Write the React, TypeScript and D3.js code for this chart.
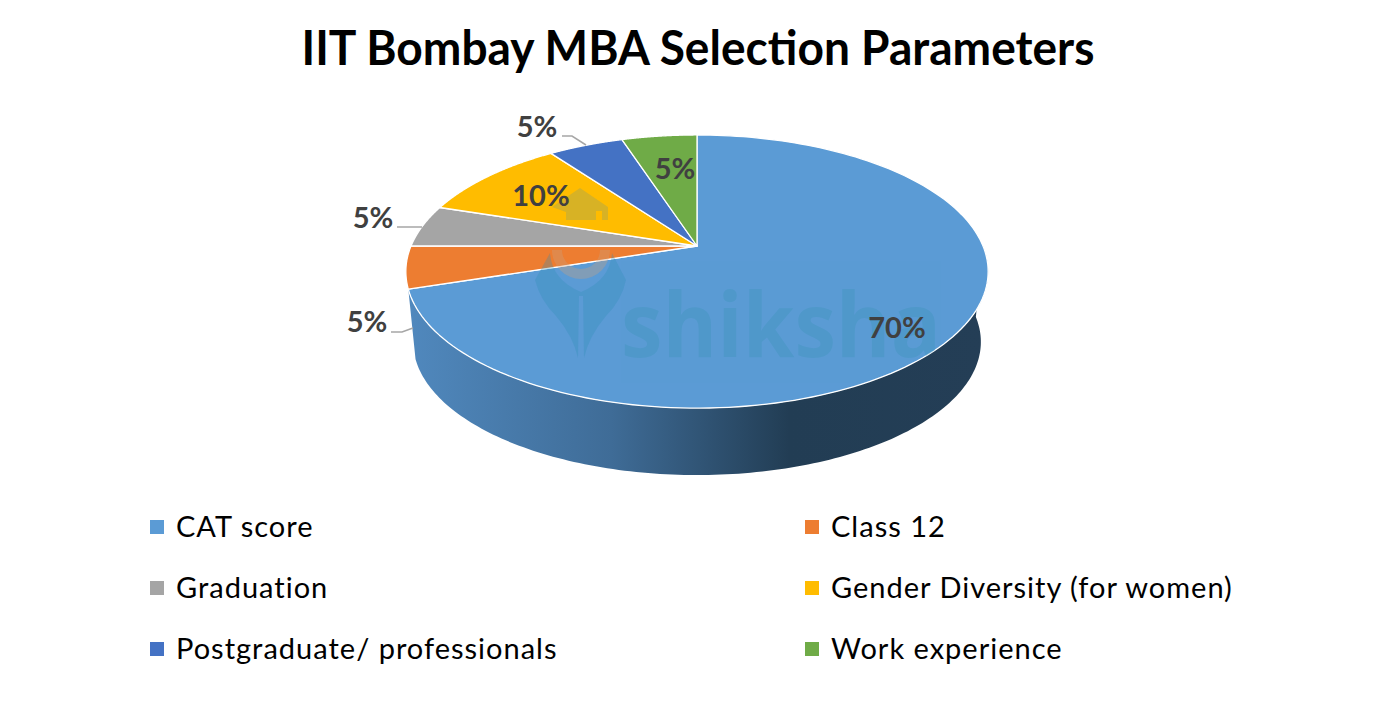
import React from "react";
import * as d3 from "d3";

const categories = ["CAT score", "Class 12", "Graduation", "Gender Diversity (for women)", "Postgraduate/ professionals", "Work experience"];
const values = [70, 5, 5, 10, 5, 5];
const colors = ["#5b9bd5", "#ed7d31", "#a5a5a5", "#ffbc00", "#4472c4", "#6fab47"];
const labelPositions: [number, number][] = [[897, 328], [367, 322], [373, 218], [541, 196], [537, 127], [675, 169]];
const legendColumns = [149, 804];
const legendRows = [527, 588, 649];
const leaders: [number, number][][] = [[], [[391, 332], [402, 332], [413, 328]], [[397, 227], [422, 227]], [], [[562, 136], [572, 136], [586, 145]], []];

const W = 1395, H = 701;
const cx = 697, cy = 246, R = 286, A = 131.8, k = 0.187;
// Perspective projection of the pie's disc onto the screen; angle is clockwise from the top
const project = (a: number, r = 1, dy = 0, s = 1): [number, number] => {
  const u = Math.sin(a) * r, v = -Math.cos(a) * r, w = 1 - k * v;
  return [cx + (s * R * u) / w, cy + dy + (s * A * v) / w];
};
const pie = d3.pie<number>().sort(null).startAngle(0).endAngle(2 * Math.PI);
const line = d3.line();
const arcPoints = (a0: number, a1: number, dy = 0, s = 1) =>
  d3.range(0, 161).map((i) => project(a0 + ((a1 - a0) * i) / 160, 1, dy, s));

export default function App() {
  const arcs = pie(values);
  const depth = 71, rimScale = 0.975;
  const sideTop = arcPoints(Math.PI * 0.5, arcs[0].endAngle);
  const sideBottom = arcPoints(Math.PI * 0.5, arcs[0].endAngle, depth, rimScale);
  const side = line([...sideTop, ...sideBottom.reverse()]) + "Z";
  const disc = line(arcPoints(0, 2 * Math.PI)) + "Z";
  const cat = "Lato, 'Noto Sans', sans-serif";
  return (
    <svg width={W} height={H} style={{ position: "absolute", left: 0, top: 0, background: "#fff" }} fontFamily={cat}>
      <defs>
        <linearGradient id="rim" gradientUnits="userSpaceOnUse" x1={410} x2={985} y1={0} y2={0}>
          <stop offset="0" stopColor="#5088bd" />
          <stop offset="0.35" stopColor="#3f6c97" />
          <stop offset="0.66" stopColor="#223d54" />
          <stop offset="1" stopColor="#243e56" />
        </linearGradient>
        <clipPath id="disc"><path d={disc} /></clipPath>
      </defs>
      <text x={698} y={65} textAnchor="middle" fontSize={48} fontWeight={700} fill="#000" textLength={793} lengthAdjust="spacingAndGlyphs">IIT Bombay MBA Selection Parameters</text>
      <path d={side} fill="url(#rim)" />
      {arcs.map((d, i) => (
        <path key={i} d={line([[cx, cy], ...arcPoints(d.startAngle, d.endAngle)]) + "Z"} fill={colors[i]} stroke="#fff" strokeWidth={1.3} strokeLinejoin="round" />
      ))}
      {/* watermark */}
      <g clipPath="url(#disc)">
        <path d="M550 253 L535 280 Q540 300 556 316 Q573 336 578 358 L579 296 L583 296 L584 358 Q589 336 606 316 Q622 300 626 280 L612 253 Q610 280 581 292 Q552 280 550 253Z" fill="#2f8fb5" opacity={0.3} />
        <path d="M552 250 A29 29 0 0 0 610 250 L600 250 A19 19 0 0 1 562 250Z" fill="#c9a080" opacity={0.35} />
        <text x={621} y={357} fontSize={90} fontWeight={700} fontFamily="'Open Sans', sans-serif" fill="#3a93b8" opacity={0.35} textLength={320} lengthAdjust="spacingAndGlyphs">shiksha</text>
      </g>
      <path d="M552 207 L580 188 L608 207 L608 220 L602 220 L602 211 L596 211 L596 220 L566 220 L566 212Z" fill="#9ca35c" opacity={0.4} />
      {leaders.map((p, i) => p.length ? <path key={i} d={line(p)!} fill="none" stroke="#a6a6a6" strokeWidth={1.5} /> : null)}
      {labelPositions.map((p, i) => (
        <text key={i} x={p[0]} y={p[1]} dy="0.36em" textAnchor="middle" fontSize={29} fontWeight={700} fill="#404040">{values[i]}%</text>
      ))}
      {categories.map((c, i) => {
        const x = legendColumns[i % 2], y = legendRows[Math.floor(i / 2)];
        return (
          <g key={c}>
            <rect x={x + 1} y={y - 7} width={14} height={14} fill={colors[i]} />
            <text x={x + 27} y={y} dy="0.36em" fontSize={29} fill="#000" letterSpacing={1}>{c}</text>
          </g>
        );
      })}
    </svg>
  );
}
